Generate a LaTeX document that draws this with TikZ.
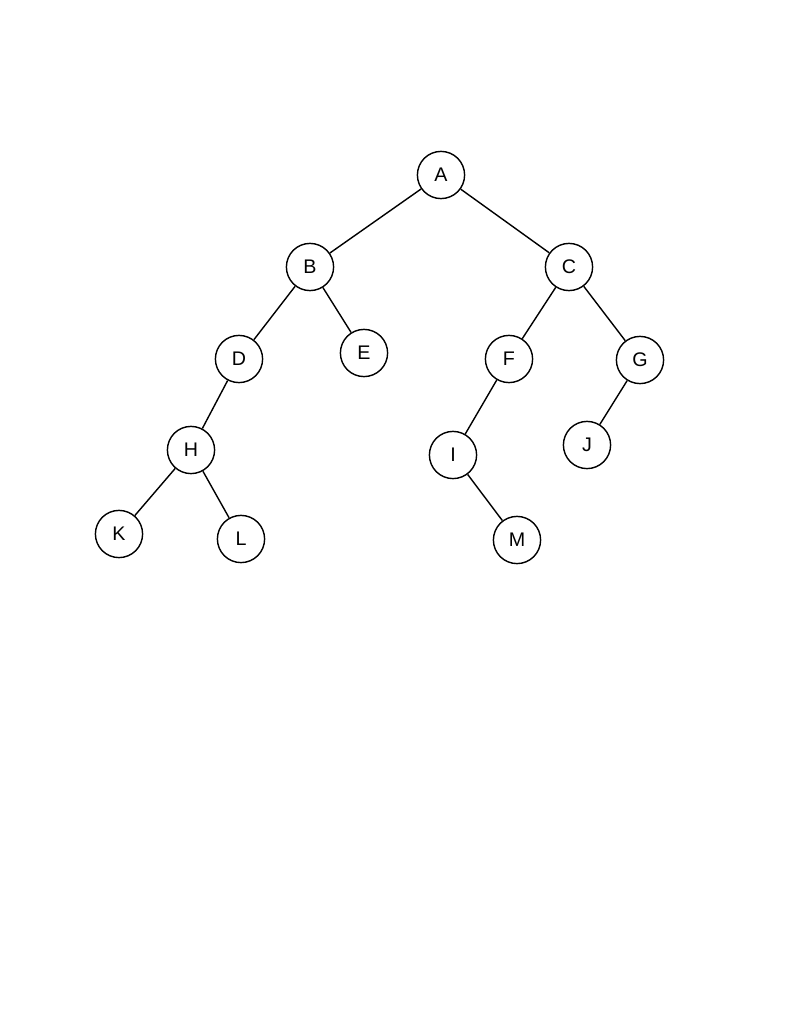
\documentclass[tikz,border=0pt]{standalone}
\usepackage{fontspec}
\setmainfont{Liberation Sans}

\begin{document}
\begin{tikzpicture}[x=0.025cm,y=-0.025cm,line width=1pt,font=\fontsize{14}{16}\selectfont,
        treenode/.style={draw,circle,minimum size=1.18cm,inner sep=0pt,fill=white}]
            \useasboundingbox (0,0) rectangle (791,1024);
            \foreach \i/\x/\y in {A/441/175, B/310/267, C/569/267, D/239/359, E/364/353,
                                 F/509/359, G/640/360, H/191/450, I/453/455, J/587/445,
                                 K/119/534, L/241/539, M/517/540} {
                \node[treenode](\i) at (\x,\y) {\i} ;
            }
            \foreach \a/\b in {A/B, A/C, B/D, B/E, C/F, C/G, D/H, H/K, H/L, F/I, I/M, G/J} {
                \draw (\a) -- (\b) ;
            }
        \end{tikzpicture}
\end{document}
